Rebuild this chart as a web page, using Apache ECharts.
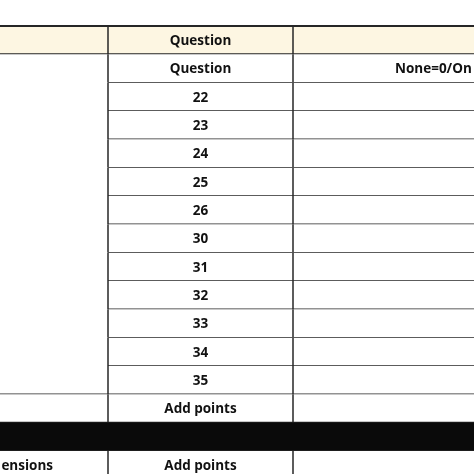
<!DOCTYPE html>
<html><head><meta charset="utf-8">
<script src="https://cdn.jsdelivr.net/npm/echarts@6/dist/echarts.min.js"></script>
<style>html,body{margin:0;padding:0;background:#fff}#c{width:474px;height:474px}</style>
</head><body><div id="c"></div>
<script>
const leftLabels  = ["", "", "", "", "", "", "", "", "", "", "", "", "", "", "", "ensions"];
const midLabels   = ["Question", "Question", "22", "23", "24", "25", "26", "30", "31", "32", "33", "34", "35", "Add points", "", "Add points"];
const rightLabels = ["", "None=0/On", "", "", "", "", "", "", "", "", "", "", "", "", "", ""];
const rowKinds    = ["header", "body", "body", "body", "body", "body", "body", "body", "body", "body", "body", "body", "body", "body", "band", "body"];
const leftMerged  = [false, true, true, true, true, true, true, true, true, true, true, true, false, false, false, false];

const TOP = 26, ROW_H = 28.33, COL = [-200, 108, 293, 700];
const FONT = 'bold 13.5px "Open Sans", Lato, sans-serif';

const chart = echarts.init(document.getElementById('c'));
chart.setOption({
  animation: false,
  grid: {left: 0, right: 0, top: 0, bottom: 0},
  xAxis: {type: 'value', min: 0, max: 474, show: false},
  yAxis: {type: 'value', min: 0, max: 474, inverse: true, show: false},
  series: [{
    type: 'custom',
    clip: false,
    data: midLabels.map((m, i) => [i]),
    renderItem: function (params, api) {
      const i = api.value(0);
      const kind = rowKinds[i];
      const y0 = api.coord([0, TOP + i * ROW_H])[1];
      const y1 = api.coord([0, TOP + (i + 1) * ROW_H])[1];
      const xs = COL.map(c => api.coord([c, 0])[0]);
      const ym = (y0 + y1) / 2;
      const ch = [];
      const fill = kind === 'header' ? '#fdf6e2' : kind === 'band' ? '#0a0a0a' : '#ffffff';
      ch.push({type: 'rect', shape: {x: xs[0], y: y0, width: xs[3] - xs[0], height: y1 - y0}, style: {fill: fill}});
      if (kind !== 'band') {
        [1, 2].forEach(k => ch.push({type: 'line', shape: {x1: xs[k], y1: y0, x2: xs[k], y2: y1}, style: {stroke: '#262626', lineWidth: 1.5}}));
      }
      const lw = (i === 0) ? 2 : 1.5;
      const lx = leftMerged[i] ? xs[1] : xs[0];
      ch.push({type: 'line', shape: {x1: lx, y1: y1, x2: xs[3], y2: y1}, style: {stroke: '#262626', lineWidth: lw}});
      if (i === 0) ch.push({type: 'line', shape: {x1: xs[0], y1: y0, x2: xs[3], y2: y0}, style: {stroke: '#262626', lineWidth: 2}});
      const tc = '#111';
      if (leftLabels[i]) ch.push({type: 'text', style: {text: leftLabels[i], x: api.coord([53, 0])[0], y: ym + 1, align: 'right', verticalAlign: 'middle', font: FONT, fill: tc}});
      if (midLabels[i]) ch.push({type: 'text', style: {text: midLabels[i], x: (xs[1] + xs[2]) / 2, y: ym + 1, align: 'center', verticalAlign: 'middle', font: FONT, fill: tc}});
      if (rightLabels[i]) ch.push({type: 'text', style: {text: rightLabels[i], x: api.coord([395, 0])[0], y: ym + 1, align: 'left', verticalAlign: 'middle', font: FONT, fill: tc}});
      return {type: 'group', children: ch};
    }
  }]
});
</script></body></html>
